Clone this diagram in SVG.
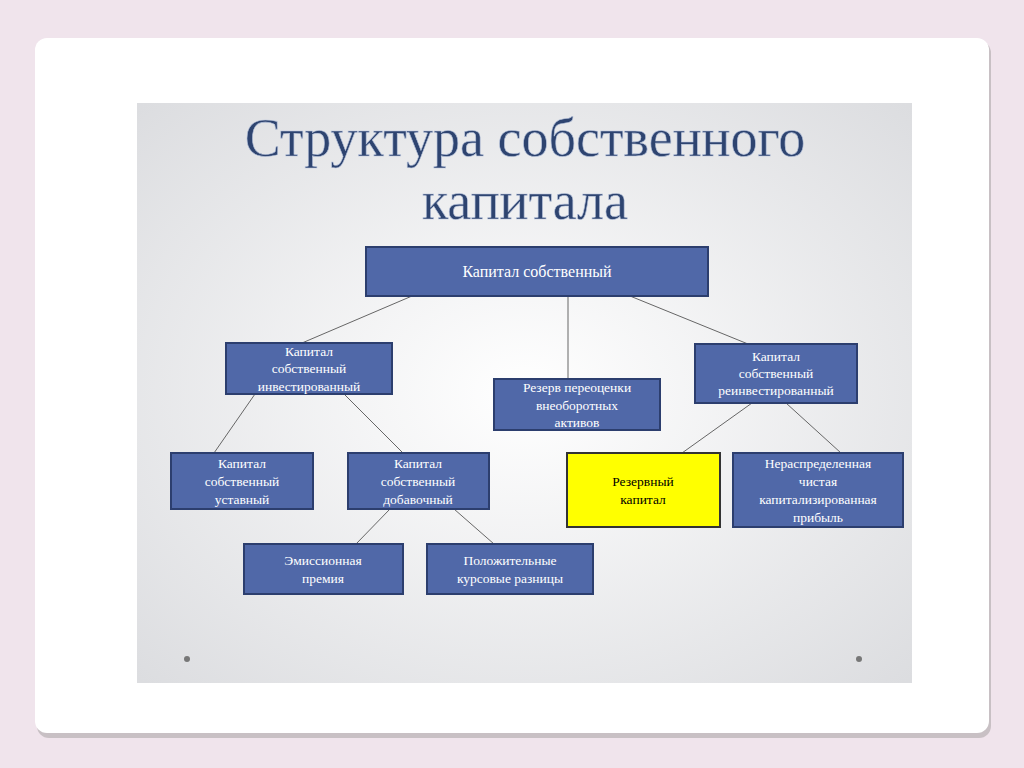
<svg xmlns="http://www.w3.org/2000/svg" width="1024" height="768" viewBox="0 0 1024 768">
<defs>
<radialGradient id="bg" cx="0.5" cy="0.5" r="0.7"><stop offset="0" stop-color="#ffffff"/><stop offset="1" stop-color="#dcdde0"/></radialGradient>
<style>
.n{fill:#5068a8;stroke:#2c3e6e;stroke-width:2}
.y{fill:#ffff00;stroke:#333;stroke-width:2}
.t{font-family:"Liberation Serif",serif;font-size:13.5px;fill:#fff;text-anchor:middle}
.tk{fill:#000}
.c line{stroke:#666;stroke-width:1}
.title{font-family:"Liberation Serif",serif;font-size:54px;fill:#2e4470;text-anchor:middle;stroke:#b8c4dc;stroke-width:0.6}
</style>
</defs>
<rect width="1024" height="768" fill="#f0e4ec"/>
<rect x="37" y="41" width="954" height="697" rx="12" fill="#c8c0c4"/>
<rect x="35" y="38" width="954" height="695" rx="12" fill="#ffffff"/>
<rect x="137" y="103" width="775" height="580" fill="url(#bg)"/>
<text class="title" x="525" y="156">Структура собственного</text>
<text class="title" x="525" y="219">капитала</text>
<circle cx="187" cy="659" r="3" fill="#777"/>
<circle cx="859" cy="659" r="3" fill="#777"/>
<g class="c" id="connectors">
<line x1="412" y1="296" x2="302" y2="343"/>
<line x1="568" y1="296" x2="568" y2="379"/>
<line x1="630" y1="296" x2="748" y2="344"/>
<line x1="255" y1="394" x2="214" y2="453"/>
<line x1="344" y1="394" x2="403" y2="453"/>
<line x1="752" y1="403" x2="682" y2="453"/>
<line x1="786" y1="403" x2="841" y2="453"/>
<line x1="390" y1="509" x2="356" y2="544"/>
<line x1="454" y1="509" x2="494" y2="544"/>
</g>
<g id="root"><rect class="n" x="366" y="247" width="342" height="49"/><text class="t" x="537" y="277" style="font-size:16px">Капитал собственный</text></g>
<g id="invest"><rect class="n" x="226" y="343" width="166" height="51"/><text class="t" x="309" y="356">Капитал</text><text class="t" x="309" y="373">собственный</text><text class="t" x="309" y="391">инвестированный</text></g>
<g id="revaluation"><rect class="n" x="494" y="379" width="166" height="51"/><text class="t" x="577" y="392">Резерв переоценки</text><text class="t" x="577" y="410">внеоборотных</text><text class="t" x="577" y="427">активов</text></g>
<g id="reinvest"><rect class="n" x="695" y="344" width="162" height="59"/><text class="t" x="776" y="361">Капитал</text><text class="t" x="776" y="378">собственный</text><text class="t" x="776" y="395">реинвестированный</text></g>
<g id="ustav"><rect class="n" x="171" y="453" width="142" height="56"/><text class="t" x="242" y="468">Капитал</text><text class="t" x="242" y="486">собственный</text><text class="t" x="242" y="504">уставный</text></g>
<g id="dobav"><rect class="n" x="348" y="453" width="141" height="56"/><text class="t" x="418" y="468">Капитал</text><text class="t" x="418" y="486">собственный</text><text class="t" x="418" y="504">добавочный</text></g>
<g id="reserve"><rect class="y" x="567" y="453" width="153" height="74"/><text class="t tk" x="643" y="486">Резервный</text><text class="t tk" x="643" y="504">капитал</text></g>
<g id="retained"><rect class="n" x="733" y="453" width="170" height="74"/><text class="t" x="818" y="468">Нераспределенная</text><text class="t" x="818" y="486">чистая</text><text class="t" x="818" y="504">капитализированная</text><text class="t" x="818" y="522">прибыль</text></g>
<g id="emission"><rect class="n" x="244" y="544" width="159" height="50"/><text class="t" x="323" y="565">Эмиссионная</text><text class="t" x="323" y="583">премия</text></g>
<g id="fx"><rect class="n" x="427" y="544" width="166" height="50"/><text class="t" x="510" y="565">Положительные</text><text class="t" x="510" y="583">курсовые разницы</text></g>
</svg>
